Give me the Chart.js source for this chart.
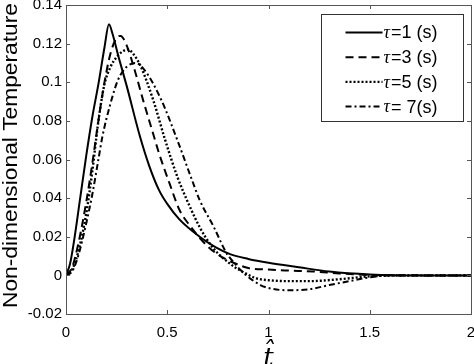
<!DOCTYPE html>
<html>
<head>
<meta charset="utf-8">
<script src="https://cdn.jsdelivr.net/npm/chart.js@4/dist/chart.umd.min.js"></script>
<style>
html,body{margin:0;padding:0;background:#fff;}
canvas{display:block;}
</style>
</head>
<body>
<canvas id="c" width="474" height="364"></canvas>
<script>
// ---- data ----
const seriesLabels = ["=1 (s)", "=3 (s)", "=5 (s)", "= 7(s)"];
const xTitle = "t\u0302";
const yTitle = "Non-dimensional Temperature";

const tau1T = [0, 0.02, 0.04, 0.07, 0.1, 0.13, 0.16, 0.19, 0.212, 0.23, 0.26, 0.3, 0.365, 0.41, 0.46, 0.5, 0.56, 0.66, 0.74, 0.81, 0.9, 1.0, 1.15, 1.3, 1.5, 1.75, 2.0];
const tau1V = [0, 0.006, 0.018, 0.04, 0.062, 0.082, 0.099, 0.118, 0.130, 0.125, 0.113, 0.098, 0.072, 0.057, 0.044, 0.037, 0.029, 0.020, 0.0145, 0.011, 0.0085, 0.0065, 0.0042, 0.002, 0.0005, 0, 0];

const tau3T = [0, 0.03, 0.06, 0.1, 0.13, 0.16, 0.19, 0.22, 0.25, 0.27, 0.3, 0.34, 0.38, 0.42, 0.46, 0.51, 0.56, 0.61, 0.7, 0.77, 0.84, 0.9, 1.0, 1.1, 1.22, 1.35, 1.5, 1.75, 2.0];
const tau3V = [0, 0.004, 0.016, 0.038, 0.058, 0.08, 0.1, 0.115, 0.123, 0.124, 0.119, 0.106, 0.091, 0.077, 0.063, 0.048, 0.034, 0.026, 0.015, 0.0095, 0.006, 0.0038, 0.003, 0.0025, 0.002, 0.001, 0.0002, 0, 0];

const tau5T = [0, 0.03, 0.06, 0.1, 0.13, 0.16, 0.19, 0.22, 0.25, 0.28, 0.305, 0.33, 0.37, 0.43, 0.49, 0.55, 0.61, 0.66, 0.72, 0.81, 0.86, 0.94, 1.0, 1.1, 1.2, 1.35, 1.5, 1.75, 2.0];
const tau5V = [0, 0.003, 0.012, 0.032, 0.054, 0.08, 0.099, 0.108, 0.113, 0.116, 0.117, 0.115, 0.108, 0.091, 0.07, 0.051, 0.036, 0.025, 0.015, 0.006, 0.0026, -0.0015, -0.0025, -0.003, -0.003, -0.002, -0.0005, 0, 0];

const tau7T = [0, 0.03, 0.06, 0.1, 0.13, 0.16, 0.18, 0.217, 0.256, 0.3, 0.345, 0.39, 0.47, 0.55, 0.62, 0.66, 0.73, 0.79, 0.82, 0.88, 0.96, 1.02, 1.1, 1.2, 1.3, 1.4, 1.5, 1.6, 1.75, 2.0];
const tau7V = [0, 0.002, 0.01, 0.027, 0.042, 0.06, 0.072, 0.088, 0.101, 0.108, 0.110, 0.106, 0.091, 0.07, 0.05, 0.039, 0.025, 0.012, 0.0077, 0.001, -0.005, -0.007, -0.0077, -0.0072, -0.005, -0.003, -0.001, 0, 0, 0];

const xTicks = [0, 0.5, 1, 1.5, 2];
const xTickLabels = ["0", "0.5", "1", "1.5", "2"];
const yTicks = [-0.02, 0, 0.02, 0.04, 0.06, 0.08, 0.1, 0.12, 0.14];
const yTickLabels = ["-0.02", "0", "0.02", "0.04", "0.06", "0.08", "0.1", "0.12", "0.14"];

const zip = (t, v) => t.map((x, i) => ({x: x, y: v[i]}));

const dashes = [[], [8, 5], [2, 2], [6, 3, 2, 3]];
const widths = [2, 2, 2.4, 2];
const allT = [tau1T, tau3T, tau5T, tau7T];
const allV = [tau1V, tau3V, tau5V, tau7V];

const datasets = seriesLabels.map((lab, i) => ({
  label: lab,
  data: zip(allT[i], allV[i]),
  borderColor: '#000',
  borderWidth: widths[i],
  borderDash: dashes[i],
  pointRadius: 0,
  fill: false,
  cubicInterpolationMode: 'monotone'
}));

const FONT = "'Liberation Sans', Arial, sans-serif";

const framePlugin = {
  id: 'frame',
  afterDraw(chart) {
    const ctx = chart.ctx;
    const a = chart.chartArea;
    const xs = chart.scales.x, ys = chart.scales.y;
    ctx.save();
    ctx.strokeStyle = '#555';
    ctx.lineWidth = 1;
    ctx.strokeRect(Math.round(a.left) + 0.5, Math.round(a.top) + 0.5,
                   Math.round(a.right - a.left), Math.round(a.bottom - a.top));
    ctx.beginPath();
    xs.ticks.forEach(t => {
      const p = Math.round(xs.getPixelForValue(t.value)) + 0.5;
      ctx.moveTo(p, a.bottom); ctx.lineTo(p, a.bottom - 4);
      ctx.moveTo(p, a.top); ctx.lineTo(p, a.top + 4);
    });
    ys.ticks.forEach(t => {
      const p = Math.round(ys.getPixelForValue(t.value)) + 0.5;
      ctx.moveTo(a.left, p); ctx.lineTo(a.left + 4, p);
      ctx.moveTo(a.right, p); ctx.lineTo(a.right - 4, p);
    });
    ctx.stroke();

    // axis titles
    ctx.fillStyle = '#000';
    ctx.textAlign = 'center';
    ctx.textBaseline = 'alphabetic';
    ctx.font = "20px " + FONT;
    const tw = ctx.measureText(yTitle).width;
    const sx = 305 / tw;
    ctx.save();
    ctx.translate(16.5, 155.5);
    ctx.rotate(-Math.PI / 2);
    ctx.scale(sx, 1);
    ctx.fillText(yTitle, 0, 0);
    ctx.restore();

    ctx.font = "italic 26px 'DejaVu Serif', serif";
    ctx.fillText(xTitle, (a.left + a.right) / 2, 366);

    // legend box
    const bw = 142, bh = 107;
    const bx = Math.round(a.right - 8 - bw) + 0.5;
    const by = Math.round(a.top + 9) + 0.5;
    ctx.fillStyle = '#fff';
    ctx.fillRect(bx, by, bw, bh);
    ctx.strokeStyle = '#333';
    ctx.lineWidth = 1;
    ctx.strokeRect(bx, by, bw, bh);
    chart.data.datasets.forEach((ds, i) => {
      const yy = by + 18 + i * 24.7;
      ctx.beginPath();
      ctx.setLineDash(ds.borderDash);
      ctx.strokeStyle = '#000';
      ctx.lineWidth = ds.borderWidth;
      ctx.moveTo(bx + 24, yy);
      ctx.lineTo(bx + 61, yy);
      ctx.stroke();
      ctx.setLineDash([]);
      ctx.fillStyle = '#000';
      ctx.textBaseline = 'middle';
      ctx.textAlign = 'left';
      ctx.font = "italic 18px 'Liberation Serif', serif";
      ctx.fillText('\u03C4', bx + 62, yy + 1);
      const w = ctx.measureText('\u03C4').width;
      ctx.font = "18px " + FONT;
      ctx.fillText(ds.label, bx + 62 + w + 1, yy + 1);
    });
    ctx.restore();
  }
};

new Chart(document.getElementById('c'), {
  type: 'line',
  data: { datasets: datasets },
  plugins: [framePlugin],
  options: {
    responsive: false,
    animation: false,
    devicePixelRatio: 1,
    layout: { padding: { top: 5, right: 3, left: 0, bottom: 0 } },
    plugins: { legend: { display: false }, tooltip: { enabled: false } },
    scales: {
      x: {
        type: 'linear', min: 0, max: 2,
        afterBuildTicks: s => { s.ticks = xTicks.map(v => ({value: v})); },
        afterFit: s => { s.height = 50; s.paddingRight = 0; s.paddingLeft = 0; },
        ticks: {
          color: '#000', padding: 10, maxRotation: 0,
          font: { size: 15, family: FONT },
          callback: (v) => xTickLabels[xTicks.indexOf(v)]
        },
        grid: { drawOnChartArea: false, drawTicks: false },
        border: { display: false },
        title: { display: false }
      },
      y: {
        type: 'linear', min: -0.02, max: 0.14,
        afterBuildTicks: s => { s.ticks = yTicks.map(v => ({value: v})); },
        afterFit: s => { s.width = 66; s.paddingTop = 0; s.paddingBottom = 0; },
        ticks: {
          color: '#000', padding: 4,
          font: { size: 15, family: FONT },
          callback: (v) => yTickLabels[yTicks.indexOf(v)]
        },
        grid: { drawOnChartArea: false, drawTicks: false },
        border: { display: false },
        title: { display: false }
      }
    }
  }
});
</script>
</body>
</html>
